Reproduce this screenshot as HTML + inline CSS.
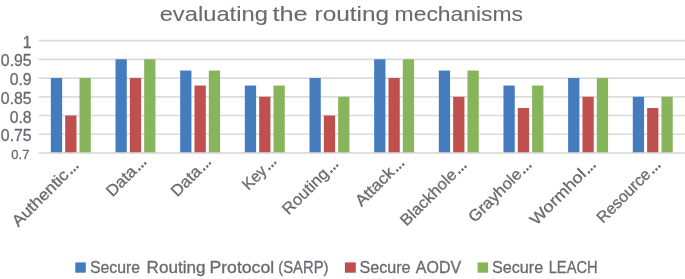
<!DOCTYPE html>
<html><head><meta charset="utf-8"><title>chart</title>
<style>html,body{margin:0;padding:0;background:#fff;overflow:hidden}svg{display:block}</style></head>
<body>
<svg width="685" height="279" viewBox="0 0 685 279" font-family="Liberation Sans, sans-serif" fill="#6a6a70" stroke="#6a6a70" stroke-width="0.3">
<rect width="685" height="279" fill="#fff" stroke="none"/>
<line x1="38.5" x2="685" y1="40.55" y2="40.55" stroke="#dcdcdc" stroke-width="1.7"/>
<line x1="38.5" x2="685" y1="59.29" y2="59.29" stroke="#dcdcdc" stroke-width="1.7"/>
<line x1="38.5" x2="685" y1="78.03" y2="78.03" stroke="#dcdcdc" stroke-width="1.7"/>
<line x1="38.5" x2="685" y1="96.78" y2="96.78" stroke="#dcdcdc" stroke-width="1.7"/>
<line x1="38.5" x2="685" y1="115.52" y2="115.52" stroke="#dcdcdc" stroke-width="1.7"/>
<line x1="38.5" x2="685" y1="134.26" y2="134.26" stroke="#dcdcdc" stroke-width="1.7"/>
<line x1="38.5" x2="685" y1="153.00" y2="153.00" stroke="#dcdcdc" stroke-width="1.7"/>
<rect x="50.85" y="78.03" width="11.28" height="74.97" fill="#447cbe" stroke="none"/>
<rect x="65.18" y="115.52" width="11.28" height="37.48" fill="#c0504d" stroke="none"/>
<rect x="79.51" y="78.03" width="11.28" height="74.97" fill="#88b45b" stroke="none"/>
<rect x="115.51" y="59.29" width="11.28" height="93.71" fill="#447cbe" stroke="none"/>
<rect x="129.84" y="78.03" width="11.28" height="74.97" fill="#c0504d" stroke="none"/>
<rect x="144.17" y="59.29" width="11.28" height="93.71" fill="#88b45b" stroke="none"/>
<rect x="180.17" y="70.54" width="11.28" height="82.46" fill="#447cbe" stroke="none"/>
<rect x="194.50" y="85.53" width="11.28" height="67.47" fill="#c0504d" stroke="none"/>
<rect x="208.83" y="70.54" width="11.28" height="82.46" fill="#88b45b" stroke="none"/>
<rect x="244.83" y="85.53" width="11.28" height="67.47" fill="#447cbe" stroke="none"/>
<rect x="259.16" y="96.77" width="11.28" height="56.23" fill="#c0504d" stroke="none"/>
<rect x="273.49" y="85.53" width="11.28" height="67.47" fill="#88b45b" stroke="none"/>
<rect x="309.49" y="78.03" width="11.28" height="74.97" fill="#447cbe" stroke="none"/>
<rect x="323.82" y="115.52" width="11.28" height="37.48" fill="#c0504d" stroke="none"/>
<rect x="338.15" y="96.77" width="11.28" height="56.23" fill="#88b45b" stroke="none"/>
<rect x="374.15" y="59.29" width="11.28" height="93.71" fill="#447cbe" stroke="none"/>
<rect x="388.48" y="78.03" width="11.28" height="74.97" fill="#c0504d" stroke="none"/>
<rect x="402.81" y="59.29" width="11.28" height="93.71" fill="#88b45b" stroke="none"/>
<rect x="438.81" y="70.54" width="11.28" height="82.46" fill="#447cbe" stroke="none"/>
<rect x="453.14" y="96.77" width="11.28" height="56.23" fill="#c0504d" stroke="none"/>
<rect x="467.47" y="70.54" width="11.28" height="82.46" fill="#88b45b" stroke="none"/>
<rect x="503.47" y="85.53" width="11.28" height="67.47" fill="#447cbe" stroke="none"/>
<rect x="517.80" y="108.02" width="11.28" height="44.98" fill="#c0504d" stroke="none"/>
<rect x="532.13" y="85.53" width="11.28" height="67.47" fill="#88b45b" stroke="none"/>
<rect x="568.13" y="78.03" width="11.28" height="74.97" fill="#447cbe" stroke="none"/>
<rect x="582.46" y="96.77" width="11.28" height="56.23" fill="#c0504d" stroke="none"/>
<rect x="596.79" y="78.03" width="11.28" height="74.97" fill="#88b45b" stroke="none"/>
<rect x="632.79" y="96.77" width="11.28" height="56.23" fill="#447cbe" stroke="none"/>
<rect x="647.12" y="108.02" width="11.28" height="44.98" fill="#c0504d" stroke="none"/>
<rect x="661.45" y="96.77" width="11.28" height="56.23" fill="#88b45b" stroke="none"/>
<line x1="38.5" x2="685" y1="153.00" y2="153.00" stroke="#dcdcdc" stroke-width="1.7"/>
<text x="31.6" y="47.55" font-size="15.8" text-anchor="end">1</text>
<text x="31.6" y="66.29" font-size="15.8" text-anchor="end">0.95</text>
<text x="31.6" y="85.03" font-size="15.8" text-anchor="end">0.9</text>
<text x="31.6" y="103.78" font-size="15.8" text-anchor="end">0.85</text>
<text x="31.6" y="122.52" font-size="15.8" text-anchor="end">0.8</text>
<text x="31.6" y="141.26" font-size="15.8" text-anchor="end">0.75</text>
<text x="29.4" y="159.3" font-size="13" text-anchor="end">0.7</text>
<text x="159.66" y="20.5" font-size="20.8" textLength="108.24" lengthAdjust="spacingAndGlyphs" stroke-width="0.1">evaluating</text>
<text x="272.40" y="20.5" font-size="20.8" textLength="35.38" lengthAdjust="spacingAndGlyphs" stroke-width="0.1">the</text>
<text x="314.55" y="20.5" font-size="20.8" textLength="74.51" lengthAdjust="spacingAndGlyphs" stroke-width="0.1">routing</text>
<text x="394.63" y="20.5" font-size="20.8" textLength="128.38" lengthAdjust="spacingAndGlyphs" stroke-width="0.1">mechanisms</text>
<g transform="translate(77.5,167.0) rotate(-45)" font-size="16"><text x="-84.80" y="0.9" textLength="73.0" lengthAdjust="spacingAndGlyphs">Authentic</text><text x="-10.56" y="0.9" stroke-width="0.6" letter-spacing="-0.28">...</text></g>
<g transform="translate(145.3,163.4) rotate(-45)" font-size="16"><text x="-47.30" y="0.9" textLength="35.5" lengthAdjust="spacingAndGlyphs">Data</text><text x="-10.56" y="0.9" stroke-width="0.6" letter-spacing="-0.28">...</text></g>
<g transform="translate(210.0,163.4) rotate(-45)" font-size="16"><text x="-47.30" y="0.9" textLength="35.5" lengthAdjust="spacingAndGlyphs">Data</text><text x="-10.56" y="0.9" stroke-width="0.6" letter-spacing="-0.28">...</text></g>
<g transform="translate(275.3,162.9) rotate(-45)" font-size="16"><text x="-38.80" y="0.9" textLength="27.0" lengthAdjust="spacingAndGlyphs">Key</text><text x="-10.56" y="0.9" stroke-width="0.6" letter-spacing="-0.28">...</text></g>
<g transform="translate(337.3,165.6) rotate(-45)" font-size="16"><text x="-69.80" y="0.9" textLength="58.0" lengthAdjust="spacingAndGlyphs">Routing</text><text x="-10.56" y="0.9" stroke-width="0.6" letter-spacing="-0.28">...</text></g>
<g transform="translate(403.1,164.5) rotate(-45)" font-size="16"><text x="-59.70" y="0.9" textLength="47.9" lengthAdjust="spacingAndGlyphs">Attack</text><text x="-10.56" y="0.9" stroke-width="0.6" letter-spacing="-0.28">...</text></g>
<g transform="translate(465.4,166.7) rotate(-45)" font-size="16"><text x="-84.20" y="0.9" textLength="72.4" lengthAdjust="spacingAndGlyphs">Blackhole</text><text x="-10.56" y="0.9" stroke-width="0.6" letter-spacing="-0.28">...</text></g>
<g transform="translate(530.4,166.3) rotate(-45)" font-size="16"><text x="-79.70" y="0.9" textLength="67.9" lengthAdjust="spacingAndGlyphs">Grayhole</text><text x="-10.56" y="0.9" stroke-width="0.6" letter-spacing="-0.28">...</text></g>
<g transform="translate(594.7,166.3) rotate(-45)" font-size="16"><text x="-83.50" y="0.9" textLength="71.7" lengthAdjust="spacingAndGlyphs">Wormhol</text><text x="-10.56" y="0.9" stroke-width="0.6" letter-spacing="-0.28">...</text></g>
<g transform="translate(659.4,166.3) rotate(-45)" font-size="16"><text x="-80.80" y="0.9" textLength="69.0" lengthAdjust="spacingAndGlyphs">Resource</text><text x="-10.56" y="0.9" stroke-width="0.6" letter-spacing="-0.28">...</text></g>
<rect x="75.3" y="262.4" width="10.5" height="10.3" fill="#447cbe" stroke="none"/>
<text x="89.98" y="272.8" font-size="16" textLength="50.16" lengthAdjust="spacingAndGlyphs">Secure</text>
<text x="146.58" y="272.8" font-size="16" textLength="58.86" lengthAdjust="spacingAndGlyphs">Routing</text>
<text x="209.54" y="272.8" font-size="16" textLength="64.55" lengthAdjust="spacingAndGlyphs">Protocol</text>
<text x="278.35" y="272.8" font-size="16" textLength="50.10" lengthAdjust="spacingAndGlyphs">(SARP)</text>
<rect x="344.9" y="262.4" width="10.9" height="10.3" fill="#c0504d" stroke="none"/>
<text x="359.46" y="272.8" font-size="16" textLength="51.09" lengthAdjust="spacingAndGlyphs">Secure</text>
<text x="415.86" y="272.8" font-size="16" textLength="45.18" lengthAdjust="spacingAndGlyphs">AODV</text>
<rect x="477.6" y="262.4" width="10.5" height="10.3" fill="#88b45b" stroke="none"/>
<text x="491.95" y="272.8" font-size="16" textLength="51.20" lengthAdjust="spacingAndGlyphs">Secure</text>
<text x="548.68" y="272.8" font-size="16" textLength="48.97" lengthAdjust="spacingAndGlyphs">LEACH</text>
</svg>
</body></html>
